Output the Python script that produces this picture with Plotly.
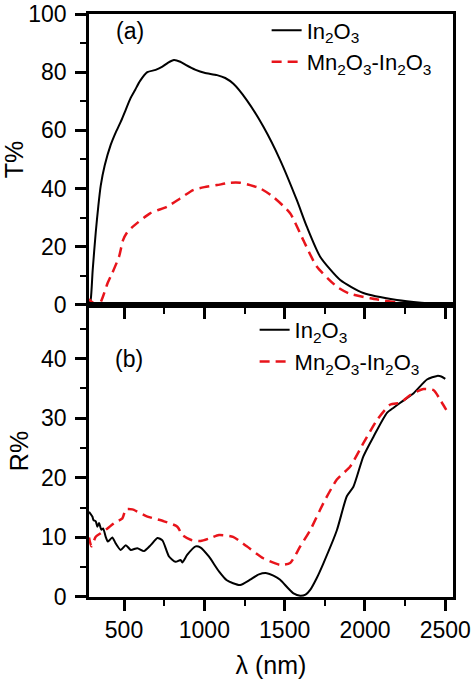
import plotly.graph_objects as go
from plotly.subplots import make_subplots

# ---- (a) Transmittance ----
wl_T_in2o3 = [282, 293, 305, 324, 340, 355, 380, 417, 450, 480, 510, 540, 570, 600, 645, 697,
              739, 775, 811, 850, 884, 946, 1000, 1079, 1130, 1181, 1264, 1367, 1472, 1576,
              1638, 1721, 1846, 1990, 2199, 2350, 2500]
T_in2o3 = [0, 2, 12, 25, 34, 41, 48, 55, 59.5, 63, 67, 71, 74, 77, 80, 80.8,
           81.9, 83.3, 84.2, 83.6, 82.5, 80.8, 79.8, 79, 78, 76, 70.4, 61.3, 49.8, 36,
           26.9, 16.6, 8.6, 4.1, 1.7, 0.8, 0.3]

wl_T_mn = [282, 300, 330, 345, 365, 397, 427, 469, 494, 520, 557, 662, 768, 849, 930, 1000,
           1079, 1160, 1223, 1285, 1350, 1428, 1534, 1616, 1700, 1825, 1900, 2033, 2239,
           2400, 2500]
T_mn = [2, 1, 0, 0, 2.3, 7.4, 11, 16.6, 22.3, 25, 27, 31.5, 33.8, 36.6, 39.5, 40.5,
        41.2, 42, 42, 41.2, 40, 37.2, 31.5, 22.3, 13.2, 6.3, 4, 2.3, 0.6,
        0.1, 0]

# ---- (b) Reflectance ----
wl_R_in2o3 = [282, 303, 310, 324, 334, 345, 359, 370, 386, 400, 427, 448, 479, 511, 542, 583,
              624, 666, 708, 739, 780, 821, 852, 863, 894, 946, 977, 1028, 1091, 1140,
              1179, 1223, 1285, 1340, 1389, 1430, 1472, 1520, 1555, 1597, 1630, 1659, 1700,
              1742, 1825, 1887, 1928, 1990, 2053, 2137, 2180, 2220, 2303, 2386, 2449, 2475, 2500]
R_in2o3 = [14.3, 13.5, 12.9, 12.7, 11.8, 12.4, 11.3, 11.5, 10.1, 9.3, 10.0, 9.0, 7.9, 8.7, 7.9, 8.2,
           7.7, 8.7, 9.9, 9.5, 6.8, 5.9, 6.2, 5.8, 7.1, 8.5, 8.3, 6.8, 4.3, 2.8,
           2.3, 2.0, 2.9, 3.8, 4.0, 3.6, 2.9, 1.5, 0.6, 0.2, 0.4, 1.2, 3.2,
           5.7, 11.2, 16.9, 18.5, 23.6, 26.9, 30.9, 31.8, 32.6, 34.2, 36.5, 37.1, 37.0, 36.6]

wl_R_mn = [282, 297, 324, 355, 397, 438, 490, 511, 552, 646, 749, 832, 863, 915, 977, 1039,
           1091, 1179, 1264, 1367, 1472, 1534, 1597, 1659, 1742, 1825, 1908, 1990, 2075,
           2158, 2220, 2282, 2365, 2428, 2470, 2506]
R_mn = [10, 8.5, 10.1, 10.7, 11.5, 12.4, 13.2, 14.7, 14.7, 13.5, 12.7, 11.8, 10.4, 9.6, 9.4, 9.9,
        10.4, 10.1, 8.5, 6.5, 5.4, 5.7, 8.5, 11.2, 15.8, 19.7, 21.9, 25.8, 29.7,
        32.3, 32.6, 33.9, 34.9, 34.7, 33, 31.4]

name_in = "In<sub>2</sub>O<sub>3</sub>"
name_mn = "Mn<sub>2</sub>O<sub>3</sub>-In<sub>2</sub>O<sub>3</sub>"

FONT = "Arial, Liberation Sans, sans-serif"
BLACK_LINE = dict(color="black", width=2, shape="spline", smoothing=0.6)
RED_LINE = dict(color="#e8141b", width=2.5, dash="10px,6px", shape="spline", smoothing=0.6)

fig = make_subplots(rows=2, cols=1, shared_xaxes=True, vertical_spacing=0)

fig.add_trace(go.Scatter(x=wl_T_in2o3, y=T_in2o3, mode="lines", name=name_in,
                         line=BLACK_LINE, legend="legend"), row=1, col=1)
fig.add_trace(go.Scatter(x=wl_T_mn, y=T_mn, mode="lines", name=name_mn,
                         line=RED_LINE, legend="legend"), row=1, col=1)
fig.add_trace(go.Scatter(x=wl_R_in2o3, y=R_in2o3, mode="lines", name=name_in,
                         line=BLACK_LINE, legend="legend2"), row=2, col=1)
fig.add_trace(go.Scatter(x=wl_R_mn, y=R_mn, mode="lines", name=name_mn,
                         line=RED_LINE, legend="legend2"), row=2, col=1)

split = 0.5009
axis_common = dict(showline=True, linecolor="black", linewidth=2.5, mirror=True,
                   ticks="outside", ticklen=11, tickwidth=2.5, tickcolor="black",
                   showgrid=False, zeroline=False, ticklabelstandoff=4, automargin=False,
                   tickfont=dict(family=FONT, size=23, color="black"))
TITLE_FONT = dict(family=FONT, size=25, color="black")

fig.update_xaxes(**axis_common, range=[282, 2548], dtick=500, tick0=0,
                 minor=dict(dtick=250, ticklen=6, tickwidth=2, tickcolor="black", ticks="outside"))
fig.update_xaxes(ticklabelstandoff=0,
                 title=dict(text="λ (nm)", font=TITLE_FONT, standoff=18), row=2, col=1)
fig.update_yaxes(**axis_common)
fig.update_yaxes(range=[0, 100], dtick=20, domain=[split, 1],
                 minor=dict(dtick=10, ticklen=6, tickwidth=2, tickcolor="black", ticks="outside"),
                 title=dict(text="T%", font=TITLE_FONT, standoff=6),
                 row=1, col=1)
fig.update_yaxes(range=[0, 49], dtick=10, domain=[0, split],
                 minor=dict(dtick=5, ticklen=6, tickwidth=2, tickcolor="black", ticks="outside"),
                 title=dict(text="R%", font=TITLE_FONT, standoff=6),
                 row=2, col=1)

legend_common = dict(xanchor="left", yanchor="top", bgcolor="rgba(0,0,0,0)",
                     font=dict(family=FONT, size=22, color="black"),
                     tracegroupgap=0)
fig.update_layout(
    width=474, height=679,
    margin=dict(l=89, r=21, t=14, b=82, autoexpand=False),
    plot_bgcolor="white", paper_bgcolor="white",
    showlegend=True,
    legend=dict(**legend_common, x=0.488, y=1.008),
    legend2=dict(**legend_common, x=0.455, y=split - 0.007),
    annotations=[
        dict(text="(a)", xref="paper", yref="paper", x=0.113, y=0.971, showarrow=False,
             xanchor="center", yanchor="middle",
             font=dict(family=FONT, size=23, color="black")),
        dict(text="(b)", xref="paper", yref="paper", x=0.11, y=0.408, showarrow=False,
             xanchor="center", yanchor="middle",
             font=dict(family=FONT, size=23, color="black")),
    ],
)

fig.write_html("out.html")
